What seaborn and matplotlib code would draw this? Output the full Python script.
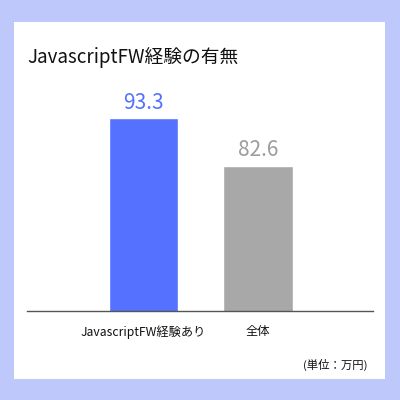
import matplotlib
matplotlib.use("Agg")
import matplotlib.pyplot as plt
import seaborn as sns
import pandas as pd
from matplotlib.patches import Rectangle

categories = ["JavascriptFW経験あり", "全体"]
values = [93.3, 82.6]
bar_colors = ["#5571ff", "#a8a8a8"]
label_colors = ["#5571ff", "#9c9c9c"]
title = "JavascriptFW経験の有無"
unit_note = "(単位：万円)"

sns.set_theme(style="white")
plt.rcParams['font.family'] = ['Noto Sans CJK JP', 'DejaVu Sans']

fig = plt.figure(figsize=(4, 4), dpi=100)
fig.patch.set_facecolor("#bfc8fb")
fig.patches.append(Rectangle((14/400, 1-379/400), (385-14)/400, (379-22)/400,
                             transform=fig.transFigure, facecolor="white",
                             edgecolor="none", zorder=-5))

ax = fig.add_axes([27/400, 1-311/400, 346/400, 223/400])
ax.set_zorder(2)
ax.set_facecolor("none")
df = pd.DataFrame({"cat": categories, "val": values})
sns.barplot(data=df, x="cat", y="val", hue="cat", palette=bar_colors,
            width=0.61, legend=False, ax=ax, saturation=1)
ax.set_ylim(50, 100)
ax.set_xlim(-1.017, 2.004)
ax.set_xlabel("")
ax.set_ylabel("")
ax.set_yticks([])
for s in ["top", "right", "left"]:
    ax.spines[s].set_visible(False)
ax.spines["bottom"].set_color("#555555")
ax.spines["bottom"].set_linewidth(1)
ax.tick_params(axis="x", length=0, pad=10, labelsize=8.8, labelcolor="#111111")

for i, v in enumerate(values):
    ax.annotate(f"{v}", (i, v), xytext=(0, 3), textcoords="offset points",
                ha="center", va="bottom", fontsize=15, color=label_colors[i])

fig.text(27/400, 1-63/400, title, ha="left", va="baseline", fontsize=13.5, color="#111111", zorder=3)
fig.text(368/400, 1-365/400, unit_note, ha="right", va="center", fontsize=8.2, color="#111111", zorder=3)

fig.savefig("out.png", dpi=100)
